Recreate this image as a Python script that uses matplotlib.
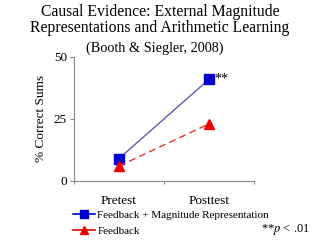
import matplotlib.pyplot as plt
from matplotlib.lines import Line2D

plt.rcParams['font.family'] = ['Liberation Serif', 'DejaVu Serif']

# data
phases = ['Pretest', 'Posttest']
feedback_mag = [9, 41]
feedback_only = [6, 23]
y_ticks = [0, 25, 50]

fig = plt.figure(figsize=(3.2, 2.4), dpi=100)
ax = fig.add_axes([0.231, 0.246, 0.563, 0.517])

xpos = [0.5, 1.5]
ax.plot(xpos, feedback_mag, color='#5a5ab4', lw=1.0, marker='s', ms=7,
        mfc='#0000cc', mec='#0000cc')
ax.plot(xpos, feedback_only, color='#ee3030', lw=1.0, ls=(0, (5, 3)), marker='^', ms=7,
        mfc='#ee0000', mec='#ee0000')

ax.set_xlim(0, 2)
ax.set_ylim(0, 50)
ax.set_yticks(y_ticks)
ax.set_xticks([0, 1, 2])
ax.set_xticklabels([])
for x, lab in zip(xpos, phases):
    ax.text(x, -5.5, lab, ha='center', va='top', fontsize=9.5)

for s in ['top', 'right']:
    ax.spines[s].set_visible(False)
for s in ['left', 'bottom']:
    ax.spines[s].set_color('#888888')
    ax.spines[s].set_linewidth(0.8)
ax.tick_params(axis='y', labelsize=9.5, color='#888888', length=3, pad=2)
ax.tick_params(axis='x', color='#888888', length=2, direction='out')
ax.set_ylabel('% Correct Sums', fontsize=9.5, labelpad=5)

ax.text(1.56, 41, '**', fontsize=10, va='center', ha='left')

fig.text(0.5, 0.985, 'Causal Evidence: External Magnitude\nRepresentations and Arithmetic Learning',
         ha='center', va='top', fontsize=11.3, linespacing=1.05)
fig.text(0.485, 0.80, '(Booth & Siegler, 2008)', ha='center', va='center', fontsize=10.3)

handles = [
    Line2D([], [], color='#0000cc', marker='s', ms=5.5, lw=1.2),
    Line2D([], [], color='#ee0000', marker='^', ms=5.5, lw=1.2),
]
fig.legend(handles, ['Feedback + Magnitude Representation', 'Feedback'],
           loc='upper left', bbox_to_anchor=(0.228, 0.125), frameon=False,
           fontsize=8, handlelength=2.0, handletextpad=0.2, labelspacing=0.55,
           borderaxespad=0, borderpad=0)
fig.text(0.97, 0.045, '**$p$ < .01', ha='right', va='center', fontsize=9,
         math_fontfamily='stix')

fig.savefig('out.png', dpi=100)
